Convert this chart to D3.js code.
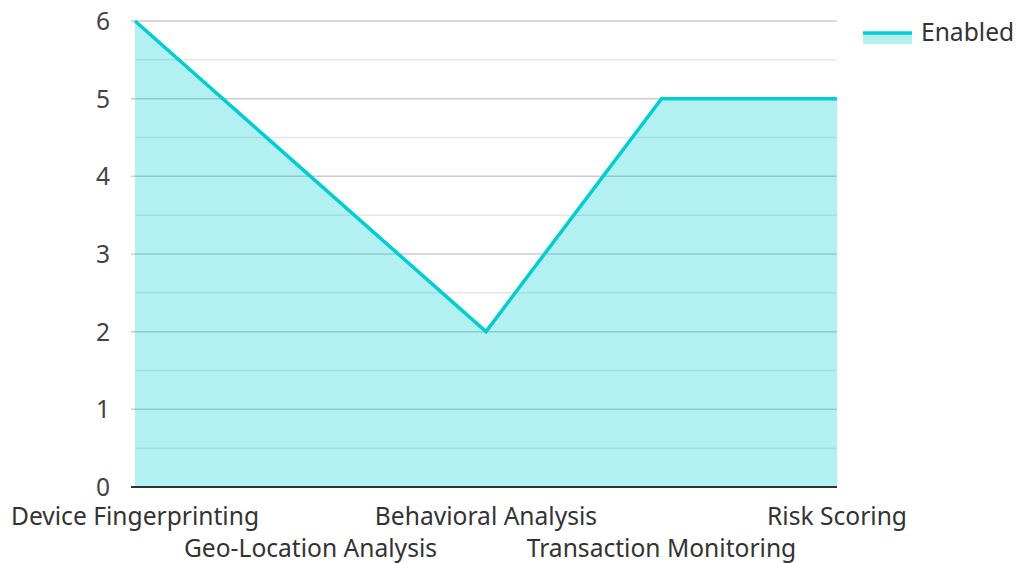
<!DOCTYPE html>
<html><head><meta charset="utf-8">
<script src="https://cdn.jsdelivr.net/npm/d3@7"></script>
<style>body{margin:0;background:#fff;}svg{display:block;font-family:"Noto Sans",sans-serif;}</style>
</head><body><svg id="c" width="1018" height="563"></svg>
<script>
const categories = ["Device Fingerprinting","Geo-Location Analysis","Behavioral Analysis","Transaction Monitoring","Risk Scoring"];
const values = [6,4,2,5,5];
const seriesName = "Enabled";
const yTicks = [0,1,2,3,4,5,6];

const svg = d3.select("#c");
const m = {l:135, r:837, t:21, b:487};
const x = d3.scalePoint().domain(categories).range([m.l, m.r]);
const y = d3.scaleLinear().domain([0,6]).range([m.b, m.t]);
const color = "#00ced1";
const fs = 24.6;

// minor grid
svg.append("g").selectAll("line").data(d3.range(0.5,6,1)).join("line")
  .attr("x1", m.l).attr("x2", m.r).attr("y1", d=>y(d)).attr("y2", d=>y(d))
  .attr("stroke", "#e6e6e6").attr("stroke-width", 1.5);
// major grid
svg.append("g").selectAll("line").data(yTicks.filter(d=>d>0)).join("line")
  .attr("x1", m.l-4).attr("x2", m.r).attr("y1", d=>y(d)).attr("y2", d=>y(d))
  .attr("stroke", "#cccccc").attr("stroke-width", 1.5);

const area = d3.area().x((d,i)=>x(categories[i])).y0(y(0)).y1(d=>y(d));
svg.append("path").datum(values).attr("d", area).attr("fill", color).attr("fill-opacity", 0.3);
const line = d3.line().x((d,i)=>x(categories[i])).y(d=>y(d));
svg.append("path").datum(values).attr("d", line).attr("fill","none").attr("stroke", color).attr("stroke-width", 3.5).attr("stroke-linejoin","miter");

// x axis line
svg.append("line").attr("x1", m.l-4).attr("x2", m.r).attr("y1", y(0)).attr("y2", y(0)).attr("stroke","#333").attr("stroke-width",2);

// y labels
svg.append("g").selectAll("text").data(yTicks).join("text")
  .attr("x", 110).attr("y", d=>y(d)+9).attr("text-anchor","end")
  .attr("font-size", fs).attr("fill","#444").text(d=>d);

// x labels
svg.append("g").selectAll("text").data(categories).join("text")
  .attr("x", d=>x(d)).attr("y", (d,i)=> i%2===0 ? 525 : 557)
  .attr("text-anchor","middle").attr("font-size", fs).attr("fill","#333").text(d=>d);

// legend
const lg = svg.append("g");
lg.append("rect").attr("x",863).attr("y",33).attr("width",49).attr("height",11).attr("fill",color).attr("fill-opacity",0.3);
lg.append("line").attr("x1",863).attr("x2",912).attr("y1",33).attr("y2",33).attr("stroke",color).attr("stroke-width",3.5);
lg.append("text").attr("x",921).attr("y",41).attr("font-size",fs).attr("fill","#333").text(seriesName);
</script></body></html>
